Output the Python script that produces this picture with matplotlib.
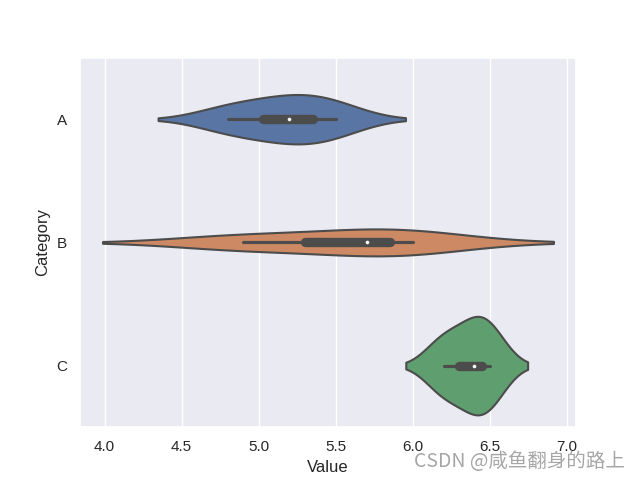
import matplotlib
matplotlib.use("Agg")
import matplotlib.pyplot as plt
import pandas as pd
import seaborn as sns

# Raw observations per category (read back from the box/violin extents)
category = ["A", "B", "C", "A", "B", "C", "A", "B", "C", "A"]
value = [4.8, 4.9, 6.2, 5.1, 5.7, 6.4, 5.3, 6.0, 6.5, 5.5]

df = pd.DataFrame({"Category": category, "Value": value})

sns.set_theme()
plt.rcParams["font.family"] = ["Liberation Sans", "DejaVu Sans"]

fig = plt.figure(figsize=(6.4, 4.8), dpi=100)
ax = fig.add_subplot(111)

major, minor = (int(p) for p in sns.__version__.split(".")[:2])
if (major, minor) >= (0, 13):
    sns.violinplot(data=df, x="Value", y="Category", hue="Category",
                   legend=False, common_norm=True, linewidth=1.5,
                   inner_kws=dict(marker="o", markersize=2.2,
                                  markeredgewidth=0.4),
                   ax=ax)
else:
    sns.violinplot(data=df, x="Value", y="Category", linewidth=1.5, ax=ax)

# CSDN watermark
fig.text(0.977, 0.038, "CSDN @咸鱼翻身的路上", ha="right", va="center",
         fontsize=14, color="#a6a6a6",
         family=["Noto Sans CJK SC", "DejaVu Sans"])

fig.savefig("out.png", dpi=100)
